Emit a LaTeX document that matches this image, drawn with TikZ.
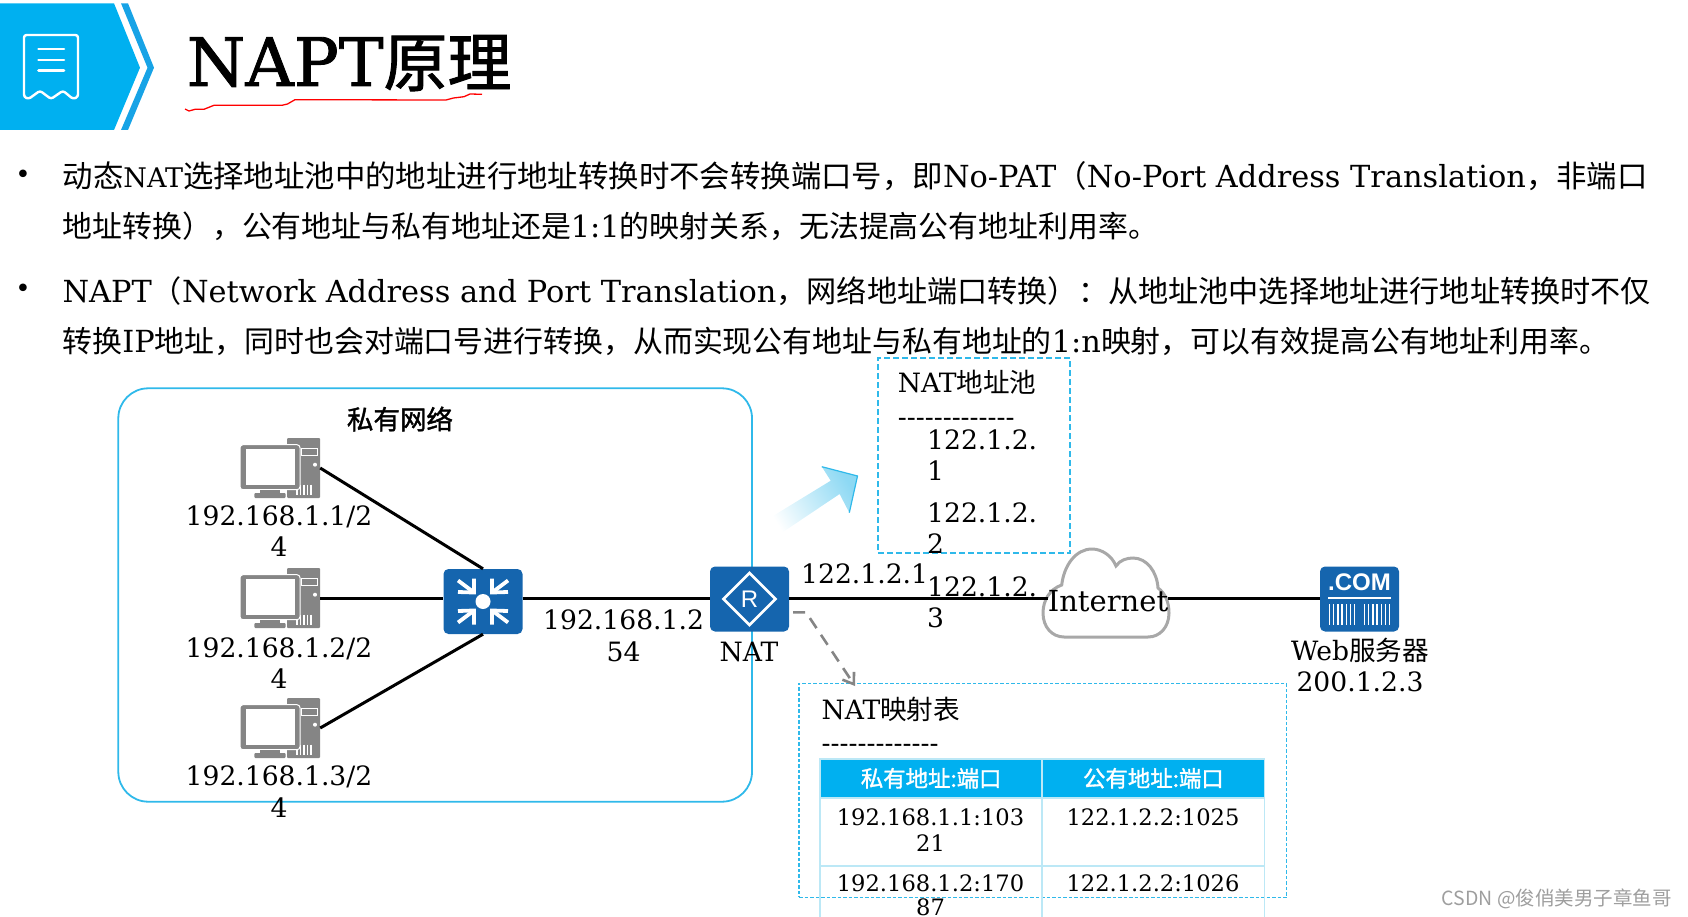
\documentclass[tikz,border=0pt]{standalone}
\usepackage{fontspec}
\setmainfont{DejaVu Serif}
\newfontfamily\cjk{Noto Sans CJK SC}
\newfontfamily\cjkbold[FakeBold=1.5]{Noto Sans CJK SC}
\newfontfamily\titlefont[FakeBold=1.2]{DejaVu Serif}
\newfontfamily\cssans{Liberation Sans}
\newcommand{\zh}[1]{{\cjk #1}}
\newcommand{\bzs}{29.9}
\newcommand{\bz}[1]{{\cjk\fontsize{\bzs}{34}\selectfont #1}}
\usetikzlibrary{arrows.meta}
\definecolor{headblue}{HTML}{00B0F0}
\definecolor{chevblue}{HTML}{17A3E6}
\definecolor{devblue}{HTML}{1565AE}
\definecolor{boxblue}{HTML}{2FB9EA}
\definecolor{cellblue}{HTML}{BCE8F6}
\definecolor{pcgray}{HTML}{858585}
\definecolor{cloudgray}{HTML}{A8A8A8}
\tikzset{
	body/.style={anchor=base west,inner sep=0pt,font=\fontsize{30.4}{34}\selectfont},
	iplabel/.style={anchor=base,inner sep=0pt,font=\fontsize{26.6}{31}\selectfont},
	cellip/.style={anchor=base,inner sep=0pt,font=\fontsize{22.6}{26}\selectfont},
	device/.style={fill=devblue,rounded corners=5pt,minimum width=79pt,minimum height=65pt,inner sep=0pt},
	link/.style={line width=3pt,black},
	poolbox/.style={draw=boxblue,dash pattern=on 6pt off 3pt,line width=2pt,inner sep=0pt},
	mapbox/.style={draw=boxblue,dash pattern=on 3.5pt off 2pt,line width=1.5pt,inner sep=0pt},
	cell/.style={draw=cellblue,line width=1.6pt,minimum width=222pt,anchor=north west,inner sep=0pt},
	pccomp/.pic={
		% Turm
		\fill[pcgray,rounded corners=1pt] (7,-30) rectangle (40,30);
		\draw[white,line width=1pt] (21.7,-20) rectangle (37.3,-12.3);
		\fill[white] (35,-3.3) circle (2);
		\foreach \vx in {17,20.5,24,27.5,31}
			\draw[white,line width=1.1pt] (\vx,16.7) -- (\vx,26.7);
		% Monitor
		\fill[pcgray,rounded corners=3pt,draw=white,line width=1pt] (-40,-23.3) rectangle (20,21.7);
		\fill[white] (-34.3,-19) rectangle (15,16.7);
		\fill[pcgray] (-20,21.7) rectangle (0,25);
		\fill[pcgray,rounded corners=1pt] (-25.7,25) rectangle (5.6,30);
	},
}
\begin{document}
\begin{tikzpicture}[x=1pt,y=-1pt,>=latex]
	\useasboundingbox (0,0) rectangle (1688,917);
	
	% Kopf
	\fill[headblue] (0,3.3) -- (114,3.3) -- (140,67.7) -- (114,130) -- (0,130) -- cycle;
	\fill[chevblue] (121,3.3) -- (128,3.3) -- (154,67.7) -- (128,130) -- (121,130) -- (147.5,67.7) -- cycle;
	\draw[white,line width=2.4pt,line join=round,rounded corners=2.5pt] (24,35) -- (78,35) -- (78,97) -- (73,99) -- (63,90.7) -- (51,99) -- (40,90.7) -- (28.6,99) -- (24,97) -- cycle;
	\foreach \ly in {49,60,70.7}
		\draw[white,line width=2.6pt,line cap=round] (38.5,\ly) -- (64,\ly);
	\node[anchor=base west,inner sep=0pt,font=\fontsize{67}{70}\selectfont] (title) at (186.6,86) {\titlefont NAPT\cjkbold\fontsize{64}{70}\selectfont 原理};
	\draw[red,line width=1.3pt,line join=round] (185,109) -- (189,111) -- (195,109.3) -- (204,109.3) -- (214,105.3) -- (282,105.3) -- (287.5,104) -- (295,99.7) -- (446,100) -- (453.5,98) -- (464,96.7) -- (470,94) -- (482,94.3);
	
	% Text
	\node[anchor=center,inner sep=0pt,font=\fontsize{26}{26}\selectfont] (bulleta) at (23,176.7) {•};
	\node[anchor=center,inner sep=0pt,font=\fontsize{26}{26}\selectfont] (bulletb) at (23,291) {•};
	\node[body] (linea) at (62.4,188) {\renewcommand{\bzs}{30.4}\bz{动态}{\fontsize{27}{34}\selectfont NAT}\bz{选择地址池中的地址进行地址转换时不会转换端口号，即}No-PAT\bz{（}No-Port Address Translation\bz{，非端口}};
	\node[body] (lineb) at (62.4,238) {\bz{地址转换），公有地址与私有地址还是}1:1\bz{的映射关系，无法提高公有地址利用率。}};
	\node[body] (linec) at (62.4,302) {\renewcommand{\bzs}{30.15}NAPT\bz{（}Network Address and Port Translation\bz{，网络地址端口转换）：从地址池中选择地址进行地址转换时不仅}};
	\node[body] (lined) at (62.4,352.5) {\bz{转换}IP\bz{地址，同时也会对端口号进行转换，从而实现公有地址与私有地址的}1:n\bz{映射，可以有效提高公有地址利用率。}};
	
	% Privates Netz
	\draw[boxblue,line width=1.8pt,rounded corners=30pt] (118.3,388.3) rectangle (752,801.7);
	\node[anchor=center,inner sep=0pt,font=\fontsize{26.5}{30}\selectfont\cjkbold] (lan) at (400,419) {私有网络};
	
	% Rechner
	\foreach \i/\py in {1/468,2/598,3/728}{
		\node[minimum width=80pt,minimum height=60pt,inner sep=0pt] (pc\i) at (280,\py) {};
		\pic at (pc\i) {pccomp};
	}
	\node[iplabel] (ipa) at (279,525.7) {192.168.1.1/2};
	\node[iplabel] (ipax) at (279,556.7) {4};
	\node[iplabel] (ipb) at (279,657) {192.168.1.2/2};
	\node[iplabel] (ipbx) at (279,688) {4};
	\node[iplabel] (ipc) at (279,785) {192.168.1.3/2};
	\node[iplabel] (ipcx) at (279,817) {4};
	
	% Switch
	\node[device] (sw) at (483,601.5) {};
	\fill[white] (sw.center) circle (7.5);
	\foreach \sx/\sy in {1/1,-1/1,1/-1,-1/-1}{
		\begin{scope}[shift={(sw.center)},xscale=\sx,yscale=\sy]
			\draw[white,line width=3.8pt] (9,-23) -- (9,-9) -- (25,-9.5);
			\draw[white,line width=3.8pt] (9,-9) -- (25,-21);
		\end{scope}
	}
	
	% Router
	\node[device] (nat) at (749.5,599) {};
	\draw[white,line width=2.6pt] (723.5,599) -- (749.5,573) -- (775.5,599) -- (749.5,625) -- cycle;
	\node[text=white,inner sep=0pt,font=\fontsize{24}{24}\selectfont\cssans] (natr) at (749.5,599) {R};
	
	% Server
	\node[device] (web) at (1359.5,599) {};
	\node[anchor=base,inner sep=0pt,text=white,font=\fontsize{24}{24}\selectfont\cssans\bfseries] (webcom) at (1359.5,590) {.COM};
	\draw[white,line width=1.6pt] (1328,597.7) -- (1391,597.7);
	\foreach \bx in {1329.5,1333.7,1337.9,1342.1,1346.3,1350.5,1354.7,1364.5,1368.7,1372.9,1377.1,1381.3,1385.5,1389.7}
		\draw[white,line width=1.4pt] (\bx,604) -- (\bx,625);
	
	% Wolke
	\draw[cloudgray,line width=3pt] (1061.7,585) .. controls (1064,565) and (1076,549) .. (1092,549) .. controls (1102,549) and (1112,556) .. (1116,566) .. controls (1120,560) and (1127,558) .. (1133,558) .. controls (1147,558) and (1157,572) .. (1158,588) .. controls (1165,593) and (1169,602) .. (1169,613) .. controls (1169,627) and (1160,637) .. (1148,637) -- (1064,637) .. controls (1052,637) and (1043,627) .. (1043,613) .. controls (1043,600) and (1050,589) .. (1061.7,585) -- cycle;
	\node[anchor=base,inner sep=0pt,font=\fontsize{29}{34}\selectfont] (internet) at (1108,611.7) {Internet};
	
	% Verbindungen
	\draw[link] (pc1.east) -- (sw.north);
	\draw[link] (pc2.east) -- (pc2.east -| sw.west);
	\draw[link] (pc3.east) -- (sw.south);
	\draw[link] (pc2.east -| sw.east) -- (pc2.east -| nat.west);
	\draw[link] (pc2.east -| nat.east) -- (pc2.east -| internet.west);
	\draw[link] (pc2.east -| internet.east) -- (pc2.east -| web.west);
	
	% Beschriftung
	\node[iplabel] (natip) at (623.6,629) {192.168.1.2};
	\node[iplabel] (natipx) at (623.6,661) {54};
	\node[iplabel] (natname) at (749,661.7) {NAT};
	\node[iplabel,anchor=base west] (pubip) at (801,583) {122.1.2.1};
	\node[iplabel] (webname) at (1360,660.7) {Web\zh{服务器}};
	\node[iplabel] (webip) at (1360,691) {200.1.2.3};
	
	% Adresspool
	\node[poolbox,minimum width=192pt,minimum height=194.7pt] (pool) at (974,455.4) {};
	\node[iplabel,anchor=base west] (pooltitle) at (897.6,392.7) {NAT\zh{地址池}};
	\node[iplabel,anchor=base west] (pooldash) at (897.6,426) {-{}-{}-{}-{}-{}-{}-{}-{}-{}-{}-{}-{}-};
	\foreach \n/\ya/\yb/\tl in {a/449/480.7/1,b/522.7/553/2,c/596/627/3}{
		\node[iplabel,anchor=base west] (pool\n) at (927,\ya) {122.1.2.};
		\node[iplabel,anchor=base west] (pool\n x) at (927,\yb) {\tl};
	}
	
	% Pfeil zum Pool
	\shade[bottom color=white,top color=boxblue!55,shading angle=-59] (766.4,520) -- (830.7,480.7) -- (821.8,466.7) -- (857.5,476) -- (849.3,512.7) -- (839.6,494) -- (777,536) -- cycle;
	\draw[boxblue,line width=1.2pt] (821.8,466.7) -- (857.5,476) -- (849.3,512.7);
	
	% Abbildungstabelle
	\node[mapbox,minimum width=487.7pt,minimum height=214pt] (map) at (1042.85,790.3) {};
	\coordinate (natout) at (793,612.3);
	\coordinate (natbend) at (806,612.3);
	\coordinate (mapin) at (855,686);
	\draw[pcgray,line width=2.6pt,dash pattern=on 12pt off 8pt,-{Straight Barb[length=10pt,width=14pt]}] (natout) -- (natbend) -- (mapin);
	\node[iplabel,anchor=base west] (maptitle) at (821.4,719) {NAT\zh{映射表}};
	\node[iplabel,anchor=base west] (mapdash) at (821.4,752) {-{}-{}-{}-{}-{}-{}-{}-{}-{}-{}-{}-{}-};
	\node[cell,fill=headblue,minimum height=39pt] (hdra) at (819.4,758) {};
	\node[cell,fill=headblue,minimum height=39pt] (hdrb) at (1041.6,758) {};
	\node[cell,minimum height=68pt] (rowaa) at (819.4,797) {};
	\node[cell,minimum height=68pt] (rowab) at (1041.6,797) {};
	\node[cell,minimum height=70pt] (rowba) at (819.4,865) {};
	\node[cell,minimum height=70pt] (rowbb) at (1041.6,865) {};
	\node[inner sep=0pt,text=white,font=\fontsize{22.4}{26}\selectfont\cjkbold] (hdratext) at (hdra.center) {私有地址:端口};
	\node[inner sep=0pt,text=white,font=\fontsize{22.4}{26}\selectfont\cjkbold] (hdrbtext) at (hdrb.center) {公有地址:端口};
	\node[cellip] (aa) at (930.5,825) {192.168.1.1:103};
	\node[cellip] (aax) at (930.5,851.7) {21};
	\node[cellip] (ab) at (1153,825) {122.1.2.2:1025};
	\node[cellip] (ba) at (930.5,891.7) {192.168.1.2:170};
	\node[cellip] (bax) at (930.5,915) {87};
	\node[cellip] (bb) at (1153,891.7) {122.1.2.2:1026};
	
	% Wasserzeichen
	\node[anchor=base east,inner sep=0pt,text=black!38,font=\fontsize{19.5}{24}\selectfont\cjk] (mark) at (1672,905) {CSDN @俊俏美男子章鱼哥};
\end{tikzpicture}
\end{document}
